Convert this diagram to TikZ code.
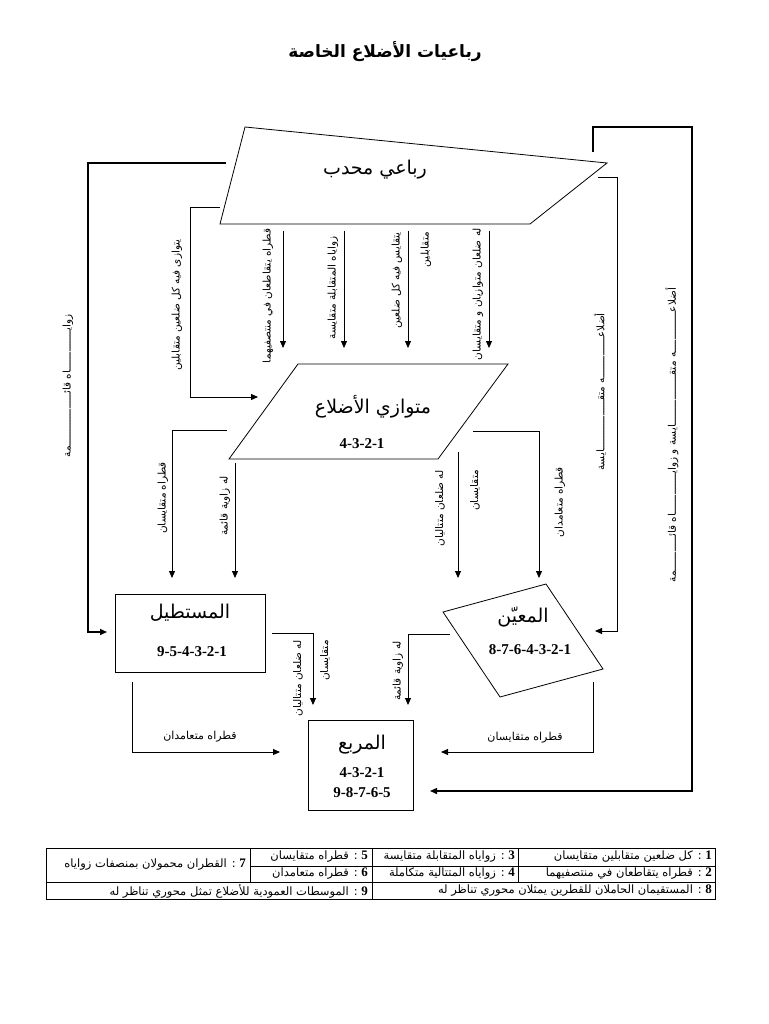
\documentclass[tikz,border=0pt]{standalone}
\usepackage{fontspec}
\setmainfont{Liberation Serif}
\newfontfamily\arabicfont[Script=Arabic]{DejaVu Sans}
\usetikzlibrary{arrows.meta}
\TeXXeTstate=1
\newcommand\artxt[1]{{\arabicfont\beginR #1\endR}}
\newcommand\tnum[1]{{\rmfamily\bfseries\fontsize{13}{14}\selectfont #1}}
\begin{document}
\begin{tikzpicture}[x=1pt,y=-1pt,
  shp/.style={draw, line width=0.8pt},
  conn/.style={line width=0.9pt, -{Triangle[length=7pt,width=6pt]}},
  outer/.style={conn, line width=1.4pt},
  vlab/.style={rotate=90, inner sep=0pt, font=\arabicfont\fontsize{10.5}{12}\selectfont},
  hlab/.style={inner sep=0pt, font=\arabicfont\fontsize{11}{12}\selectfont},
  big/.style={inner sep=0pt, font=\arabicfont\fontsize{19}{21}\selectfont},
  num/.style={inner sep=0pt, font=\fontsize{15}{17}\selectfont\bfseries},
  tab/.style={inner sep=0pt, anchor=east, font=\arabicfont\fontsize{11.5}{13}\selectfont},
  tline/.style={line width=0.7pt}]
\useasboundingbox[fill=white] (0,0) rectangle (768,1024);

% title
\node[inner sep=0pt, font=\arabicfont\bfseries\fontsize{17}{19}\selectfont] (title) at (385,52) {\artxt{رباعيات الأضلاع الخاصة}};

% shapes
\draw[shp] (245,127) coordinate (qA) -- (607,163) coordinate (qB) -- (530,224) coordinate (qC) -- (220,224) coordinate (qD) -- cycle;
\node[big] (quad) at (375,170) {\artxt{رباعي محدب}};

\draw[shp] (298,364) coordinate (pA) -- (508,364) coordinate (pB) -- (438,459) coordinate (pC) -- (229,459) coordinate (pD) -- cycle;
\node[big] (par) at (373,407) {\artxt{متوازي الأضلاع}};
\node[num] (parn) at (362,444) {4-3-2-1};

\draw[shp] (115,594) coordinate (rA) rectangle (265,672) coordinate (rC);
\node[big] (rect) at (190,613) {\artxt{المستطيل}};
\node[num] (rectn) at (192,652) {9-5-4-3-2-1};

\draw[shp] (546,584) coordinate (mA) -- (603,669) coordinate (mB) -- (500,697) coordinate (mC) -- (443,612) coordinate (mD) -- cycle;
\node[big] (rhomb) at (523,617) {\artxt{المعيّن}};
\node[num] (rhombn) at (530,650) {8-7-6-4-3-2-1};

\draw[shp] (308,720) coordinate (sA) rectangle (413,810) coordinate (sC);
\node[big] (sq) at (362,745) {\artxt{المربع}};
\node[num] (sqn1) at (362,773) {4-3-2-1};
\node[num] (sqn2) at (362,793) {9-8-7-6-5};

% connector coordinates
\coordinate (qL1) at (226,163);
\coordinate (qL2) at (220,207);
\coordinate (qR1) at (598,177);
\coordinate (qR2) at (593,152);
\coordinate (rIn) at (107,632);
\coordinate (pIn) at (258,397);
\coordinate (mIn) at (595,631);
\coordinate (sIn) at (430,791);
\foreach \n/\x in {1/283,2/344,3/408,4/489}{
  \coordinate (d\n s) at (\x,231);
  \coordinate (d\n e) at (\x,348);
}
\coordinate (pL1) at (227,430);
\coordinate (pL2) at (235,463);
\coordinate (pR1) at (458,452);
\coordinate (pR2) at (473,431);
\coordinate (rT1) at (172,578);
\coordinate (rT2) at (235,578);
\coordinate (mT1) at (458,578);
\coordinate (mT2) at (539,578);
\coordinate (rR) at (272,633);
\coordinate (rB) at (132,682);
\coordinate (mL) at (450,634);
\coordinate (mBt) at (593,682);
\coordinate (sT1) at (313,705);
\coordinate (sT2) at (408,705);
\coordinate (sL) at (280,752);
\coordinate (sR) at (441,752);

% connectors
\draw[outer] (qL1) -- ++(-138,0) |- (rIn);
\draw[conn] (qL2) -- ++(-30,0) |- (pIn);
\foreach \n in {1,2,3,4}{ \draw[conn] (d\n s) -- (d\n e); }
\draw[conn] (pL1) -| (rT1);
\draw[conn] (pL2) -- (rT2);
\draw[conn] (pR1) -- (mT1);
\draw[conn] (pR2) -| (mT2);
\draw[conn] (rR) -| (sT1);
\draw[conn] (rB) |- (sL);
\draw[conn] (mL) -| (sT2);
\draw[conn] (mBt) |- (sR);
\draw[conn] (qR1) -- ++(19,0) |- (mIn);
\draw[outer] (qR2) -- ++(0,-25) -- ++(99,0) |- (sIn);

% labels
\node[vlab] (l1) at (177,305) {\artxt{يتوازى فيه كل ضلعين متقابلين}};
\node[vlab] (l2) at (268,296) {\artxt{قطراه يتقاطعان في منتصفيهما}};
\node[vlab] (l3) at (333,288) {\artxt{زواياه المتقابلة متقايسة}};
\node[vlab, anchor=east] (l4a) at (397,232) {\artxt{يتقايس فيه كل ضلعين}};
\node[vlab, anchor=east] (l4b) at (426,232) {\artxt{متقابلين}};
\node[vlab] (l5) at (478,294) {\artxt{له ضلعان متوازيان و متقايسان}};
\node[vlab] (lo1) at (68,386) {\artxt{زوايـــــــــــــاه قائـــــــــــــــــمة}};
\node[vlab] (lo2) at (600,392) {\artxt{أضلاعـــــــــــــه متقــــــــــــــــايسة}};
\node[vlab] (lo3) at (672,435) {\artxt{أضلاعـــــــــــــه متقــــــــــــــــايسة و زوايـــــــــــــاه قائـــــــــــمة}};
\node[vlab] (l6) at (163,498) {\artxt{قطراه متقايسان}};
\node[vlab] (l7) at (225,506) {\artxt{له زاوية قائمة}};
\node[vlab, anchor=east] (l8a) at (440,470) {\artxt{له ضلعان متتاليان}};
\node[vlab, anchor=east] (l8b) at (475,470) {\artxt{متقايسان}};
\node[vlab] (l9) at (560,502) {\artxt{قطراه متعامدان}};
\node[vlab, anchor=east] (l10a) at (298,640) {\artxt{له ضلعان متتاليان}};
\node[vlab, anchor=east] (l10b) at (325,640) {\artxt{متقايسان}};
\node[vlab] (l11) at (398,671) {\artxt{له زاوية قائمة}};
\node[hlab] (l12) at (200,737) {\artxt{قطراه متعامدان}};
\node[hlab] (l13) at (525,738) {\artxt{قطراه متقايسان}};

% table
\draw[tline] (46,848) rectangle (715,899);
\draw[tline] (250,866) -- (715,866);
\draw[tline] (46,882) -- (715,882);
\draw[tline] (250,848) -- (250,882);
\draw[tline] (372,848) -- (372,899);
\draw[tline] (518,848) -- (518,882);
\node[tab] (t1) at (712,857) {\beginR\tnum{1} : كل ضلعين متقابلين متقايسان\endR};
\node[tab] (t2) at (712,874) {\beginR\tnum{2} : قطراه يتقاطعان في منتصفيهما\endR};
\node[tab] (t3) at (515,857) {\beginR\tnum{3} : زواياه المتقابلة متقايسة\endR};
\node[tab] (t4) at (515,874) {\beginR\tnum{4} : زواياه المتتالية متكاملة\endR};
\node[tab] (t5) at (368,857) {\beginR\tnum{5} : قطراه متقايسان\endR};
\node[tab] (t6) at (368,874) {\beginR\tnum{6} : قطراه متعامدان\endR};
\node[tab] (t7) at (246,865) {\beginR\tnum{7} : القطران محمولان بمنصفات زواياه\endR};
\node[tab] (t8) at (712,891) {\beginR\tnum{8} : المستقيمان الحاملان للقطرين يمثلان محوري تناظر له\endR};
\node[tab] (t9) at (368,891) {\beginR\tnum{9} : الموسطات العمودية للأضلاع تمثل محوري تناظر له\endR};
\end{tikzpicture}
\end{document}
